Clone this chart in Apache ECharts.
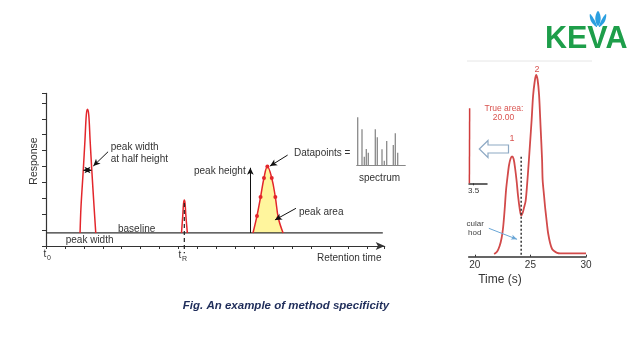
<!DOCTYPE html>
<html><head><meta charset="utf-8">
<script src="https://cdn.jsdelivr.net/npm/echarts@6/dist/echarts.min.js"></script>
<style>html,body{margin:0;padding:0;background:#fff}#c{width:638px;height:359px}</style>
</head><body><div id="c"></div>
<script>
// ---- left schematic chromatogram (x in tick units, y in tick units) ----
const peak1X = [1.80,1.85,1.97,2.06,2.13,2.19,2.26,2.33,2.42,2.54,2.63];
const peak1Y = [0.82,2.47,4.78,6.67,8.24,8.60,8.24,6.67,4.78,2.47,0.82];
const peak2X = [7.16,7.23,7.27,7.31,7.35,7.39,7.47];
const peak2Y = [0.82,1.95,2.67,2.89,2.67,1.95,0.82];
const peak3X = [10.94,11.15,11.34,11.52,11.70,11.93,12.12,12.28,12.53];
const peak3Y = [0.82,1.89,3.08,4.28,5.00,4.28,3.08,1.76,0.82];
const baselineLevel = 0.82;
const baselineEnd = 17.8;
const retentionTR = 7.31;
// ---- spectrum inset ----
const spectrumPos = [0,4.3,6.6,8.6,10.6,17.6,19.6,24.3,26.6,29,35.6,37.6,40];
const spectrumInt = [47.7,35.7,8.3,16,12.3,35.7,27.7,15.7,4.3,24,20,31.7,12.3];
// ---- right chromatogram (time in s) ----
const rightTime = [21.74,22.01,22.23,22.41,22.55,22.68,22.81,22.95,23.08,23.22,23.35,23.49,23.62,23.76,23.89,24.03,24.17,24.30,24.43,24.57,24.70,24.84,24.97,25.11,25.24,25.38,25.51,25.65,25.78,25.92,26.05,26.10,26.23,26.32,26.41,26.50,26.59,26.77,26.95,27.13,27.40,27.67,30.0];
const rightResp = [0.27,0.52,1.07,1.87,2.97,4.67,6.67,8.07,9.17,9.82,10.02,9.77,8.87,7.57,6.07,4.87,4.12,4.37,4.92,5.57,7.17,9.27,11.37,13.67,16.07,17.47,18.17,17.67,16.17,12.87,9.67,7.67,6.07,4.97,4.07,3.17,2.37,1.37,0.77,0.57,0.39,0.34,0.34];
const rightTicks = [20,25,30];
const valleyTime = 24.17, valleyTop = 10.0;
// ---- cut-off neighbour panel ----
const sideX = [3.335,3.345];
const sideY = [0,9.0];
const sideTicks = [3.5];

const FONT = 'Liberation Sans, Arial, sans-serif';
const RED = '#e3262b';
const zip = (a,b) => a.map((v,i)=>[v,b[i]]);

const chart = echarts.init(document.getElementById('c'), null, {renderer:'canvas'});

function T(x,y,text,o){
  o=o||{};
  return {type:'text', x:x, y:y, rotation:o.rot||0, silent:true,
    style:{text:text, x:0, y:0, fill:o.fill||'#333',
      fontSize:o.size||10, fontFamily:FONT, fontWeight:o.weight||'normal', fontStyle:o.style||'normal',
      align:o.align||'left', verticalAlign:'middle'}};
}

const graphic = [
  T(34,161,'Response',{rot:Math.PI/2,align:'center',size:10.5}),
  T(110.7,147.3,'peak width'),
  T(110.7,159,'at half height'),
  T(194,171,'peak height'),
  T(294,153,'Datapoints ='),
  T(359,178,'spectrum'),
  T(299,212,'peak area'),
  T(118,229,'baseline'),
  T(65.7,240,'peak width'),
  T(317,258,'Retention time'),
  T(43.5,254,'t'),
  T(47,258,'0',{size:7}),
  T(178.5,255,'t'),
  T(182,259,'R',{size:7}),
  // right panel texts
  T(504,109,'True area:',{fill:'#d9534f',size:8.5,align:'center'}),
  T(503.5,117.5,'20.00',{fill:'#d9534f',size:8.5,align:'center'}),
  T(512,139,'1',{fill:'#d9534f',size:9,align:'center'}),
  T(537,69.5,'2',{fill:'#d9534f',size:9,align:'center'}),
  T(466.5,224,'cular',{size:8,fill:'#444'}),
  T(468,232.7,'hod',{size:8,fill:'#444'}),
  T(500,279.5,'Time (s)',{size:12,align:'center'}),
  // caption
  T(286,306,'Fig. An example of method specificity',{size:11.5,weight:'bold',style:'italic',fill:'#1f2d5a',align:'center'}),
  // logo
  T(545,40,'KEVA',{size:30.5,weight:'bold',fill:'#1e9e4a'}),
  {type:'polygon', silent:true, shape:{points:[[598,11],[595.3,18.5],[598,26],[600.7,18.5]], smooth:0.4}, style:{fill:'#2b9fe0'}},
  {type:'polygon', silent:true, shape:{points:[[590,14],[591.2,21.5],[597,27],[594.2,19.5]], smooth:0.4}, style:{fill:'#2b9fe0'}},
  {type:'polygon', silent:true, shape:{points:[[606,14],[604.8,21.5],[599,27],[601.8,19.5]], smooth:0.4}, style:{fill:'#2b9fe0'}},
  // hollow arrow pointing left
  {type:'polygon', silent:true, shape:{points:[[479.3,149],[488,140.5],[488,145],[508.5,145],[508.5,153],[488,153],[488,157.5]]}, style:{fill:'#fff', stroke:'#8ea9c4', lineWidth:1.2}},
  // faint frame line on top of right panel
  {type:'line', silent:true, shape:{x1:467,y1:61,x2:592,y2:61}, style:{stroke:'#e6e6e6', lineWidth:1}}
];

const arrowLine = (a,b,s1,s2) => [{coord:a, symbol:s1||'none'},{coord:b, symbol:s2||'arrow'}];

const option = {
  animation:false,
  textStyle:{fontFamily:FONT},
  grid:[
    {left:46, top:93.4, width:338.7, height:152.6},
    {left:356.7, top:117, width:48.6, height:48},
    {left:468.7, top:56.7, width:117.3, height:200},
    {left:469, top:100, width:18, height:83.3}
  ],
  xAxis:[
    {gridIndex:0, type:'value', min:0, max:17.9, interval:1,
      axisLine:{show:true, symbol:['none','arrow'], symbolSize:[6,9], lineStyle:{color:'#333', width:1.2}},
      axisTick:{show:true, length:3, lineStyle:{color:'#333'}}, axisLabel:{show:false}, splitLine:{show:false}},
    {gridIndex:1, type:'value', min:-1, max:47.6,
      axisLine:{show:true, onZero:false, lineStyle:{color:'#888', width:1}}, axisTick:{show:false}, axisLabel:{show:false}, splitLine:{show:false}},
    {gridIndex:2, type:'value', min:19.45, max:30,
      axisLine:{show:true, onZero:false, lineStyle:{color:'#333', width:1.5}},
      axisTick:{show:true, inside:true, length:2, customValues:rightTicks, lineStyle:{color:'#333'}},
      axisLabel:{show:true, customValues:rightTicks, fontSize:10, color:'#333', margin:4}, splitLine:{show:false}},
    {gridIndex:3, type:'value', min:3.32, max:4.02,
      axisLine:{show:true, onZero:false, lineStyle:{color:'#333', width:1.5}},
      axisTick:{show:true, length:2, customValues:sideTicks, lineStyle:{color:'#333'}},
      axisLabel:{show:true, customValues:sideTicks, fontSize:8, color:'#333', margin:3}, splitLine:{show:false}}
  ],
  yAxis:[
    {gridIndex:0, type:'value', min:0, max:9.6, interval:1,
      axisLine:{show:true, lineStyle:{color:'#333', width:1.2}}, axisTick:{show:true, length:4, lineStyle:{color:'#333'}}, axisLabel:{show:false}, splitLine:{show:false}},
    {gridIndex:1, type:'value', min:0, max:48, show:false},
    {gridIndex:2, type:'value', min:0, max:20, show:false},
    {gridIndex:3, type:'value', min:0, max:10, show:false}
  ],
  series:[
    {type:'line', xAxisIndex:0, yAxisIndex:0, data:[[0,baselineLevel],[baselineEnd,baselineLevel]], symbol:'none', silent:true,
      lineStyle:{color:'#333', width:1.2},
      markLine:{silent:true, symbolSize:[5,7], label:{show:false}, lineStyle:{color:'#111', width:1, type:'solid'},
        data:[
          arrowLine([3.28,5.93],[2.50,5.03]),
          arrowLine([12.77,5.72],[11.84,5.03]),
          arrowLine([13.21,2.37],[12.10,1.64]),
          arrowLine([10.8,baselineLevel],[10.8,4.92],'none','arrow'),
          arrowLine([1.98,4.78],[2.40,4.78],'arrow','arrow')
        ]}},
    {type:'line', xAxisIndex:0, yAxisIndex:0, data:zip(peak1X,peak1Y), smooth:0.35, symbol:'none', lineStyle:{color:RED, width:1.5}},
    {type:'line', xAxisIndex:0, yAxisIndex:0, data:zip(peak2X,peak2Y), smooth:0.35, symbol:'none', lineStyle:{color:RED, width:1.5}},
    {type:'line', xAxisIndex:0, yAxisIndex:0,
      data:zip(peak3X,peak3Y).map((p,i,a)=> (i===0||i===a.length-1) ? {value:p, symbol:'none'} : {value:p}),
      smooth:0.4, symbol:'circle', symbolSize:4, showSymbol:true, itemStyle:{color:RED},
      lineStyle:{color:RED, width:1.5}, areaStyle:{color:'#fff59d', opacity:1, origin:baselineLevel}},
    {type:'line', xAxisIndex:0, yAxisIndex:0, data:[[retentionTR,2.7],[retentionTR,-0.45]], clip:false, symbol:'none',
      lineStyle:{color:'#222', width:1.2, type:[4,3]}},
    {type:'bar', xAxisIndex:1, yAxisIndex:1, data:zip(spectrumPos,spectrumInt), barWidth:1.3, itemStyle:{color:'#8a8a8a'}, silent:true},
    {type:'line', xAxisIndex:2, yAxisIndex:2, data:zip(rightTime,rightResp), smooth:0.3, symbol:'none', lineStyle:{color:'#d24a4a', width:1.8},
      markLine:{silent:true, symbol:['none','arrow'], symbolSize:[4,6], label:{show:false}, lineStyle:{color:'#6aa6d6', width:1, type:'solid'},
        data:[ arrowLine([21.26,2.84],[23.80,1.74]) ]}},
    {type:'line', xAxisIndex:2, yAxisIndex:2, data:[[valleyTime,valleyTop],[valleyTime,0]], symbol:'none', lineStyle:{color:'#333', width:1.5, type:[2,2]}},
    {type:'line', xAxisIndex:3, yAxisIndex:3, data:zip(sideX,sideY), symbol:'none', lineStyle:{color:'#d03c3c', width:1.5}, clip:false}
  ],
  graphic:graphic
};
chart.setOption(option);
</script></body></html>
